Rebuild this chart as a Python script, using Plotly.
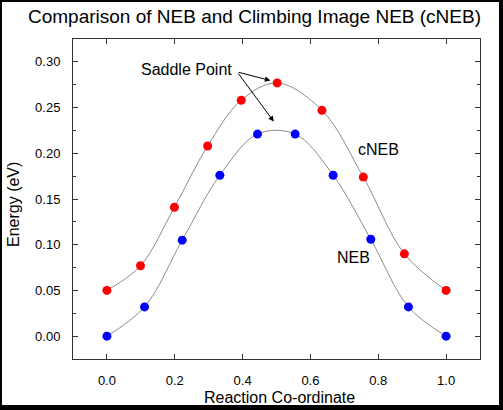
import plotly.graph_objects as go

# NEB images (blue) and climbing image NEB (red)
neb_x = [0.0, 0.111, 0.222, 0.333, 0.444, 0.555, 0.667, 0.778, 0.889, 1.0]
neb_e = [0.0, 0.032, 0.105, 0.176, 0.221, 0.221, 0.176, 0.106, 0.032, 0.0]

cneb_x = [0.0, 0.099, 0.199, 0.297, 0.396, 0.502, 0.634, 0.756, 0.877, 1.0]
cneb_e = [0.05, 0.077, 0.141, 0.208, 0.258, 0.277, 0.247, 0.174, 0.090, 0.05]

x_ticks = [0.0, 0.2, 0.4, 0.6, 0.8, 1.0]
y_ticks = [0.00, 0.05, 0.10, 0.15, 0.20, 0.25, 0.30]

W, H = 503, 410
L, R, T, B = 73, 480, 39, 359
FONT = "Liberation Sans, Arial, Helvetica, sans-serif"


def px(x):
    return (x - L) / (R - L)


def py(y):
    return (B - y) / (B - T)


fig = go.Figure()

for xs, es, col, nm in [(cneb_x, cneb_e, "#ff0000", "cNEB"), (neb_x, neb_e, "#0000ff", "NEB")]:
    fig.add_trace(go.Scatter(x=xs, y=es, mode="lines", name=nm,
                             line=dict(color="#8c8c8c", width=1, shape="spline"),
                             hoverinfo="skip"))
for xs, es, col, nm in [(cneb_x, cneb_e, "#ff0000", "cNEB"), (neb_x, neb_e, "#0000ff", "NEB")]:
    fig.add_trace(go.Scatter(x=xs, y=es, mode="markers", name=nm,
                             marker=dict(color=col, size=9, line=dict(width=0))))

axis_common = dict(showline=True, linecolor="#333333", linewidth=1, mirror="ticks",
                   ticks="inside", tickcolor="#333333", ticklen=5, tickwidth=1,
                   showgrid=False, zeroline=False,
                   tickfont=dict(family=FONT, size=13, color="black"))

fig.update_xaxes(range=[-0.1, 1.1], tickvals=x_ticks, tickformat=".1f",
                 ticklabelstandoff=9, **axis_common)
fig.update_yaxes(range=[-0.025, 0.325], tickvals=y_ticks, tickformat=".2f",
                 ticklabelstandoff=9,
                 minor=dict(ticks="inside", ticklen=3, dtick=0.025, tickcolor="#333333",
                            showgrid=False),
                 **axis_common)

centre = dict(xref="paper", yref="paper", showarrow=False, xanchor="center", yanchor="middle")
ann = [
    dict(text="Comparison of NEB and Climbing Image NEB (cNEB)", x=px(254), y=py(16),
         font=dict(size=19), **centre),
    dict(text="Reaction Co-ordinate", x=px(279), y=py(397), font=dict(size=16), **centre),
    dict(text="Energy (eV)", x=px(13), y=py(205), textangle=-90, font=dict(size=16), **centre),
    dict(text="Saddle Point", x=0.236, y=0.292, showarrow=False, font=dict(size=16)),
    dict(text="cNEB", x=0.801, y=0.204, showarrow=False, font=dict(size=16)),
    dict(text="NEB", x=0.727, y=0.086, showarrow=False, font=dict(size=16)),
]
for hx, hy in [(0.482, 0.2796), (0.492, 0.2347)]:
    ann.append(dict(text="", x=hx, y=hy, ax=0.384, ay=0.289, axref="x", ayref="y",
                    showarrow=True, arrowhead=2, arrowsize=1.1, arrowwidth=1,
                    arrowcolor="black"))

# thick black frame round the whole picture
shapes = []
for x0, y0, x1, y1 in [(0, 0, W, 2), (0, 0, 2, H), (499, 0, W, H), (0, 405, W, H)]:
    shapes.append(dict(type="rect", xref="paper", yref="paper",
                       x0=px(x0), x1=px(x1), y0=py(y1), y1=py(y0),
                       fillcolor="black", line=dict(width=0), layer="above"))

fig.update_layout(width=W, height=H, margin=dict(l=L, r=W - R, t=T, b=H - B),
                  paper_bgcolor="white", plot_bgcolor="white", showlegend=False,
                  font=dict(family=FONT, color="black"),
                  annotations=ann, shapes=shapes)

fig.write_html("out.html", config={"displayModeBar": False},
               post_script="document.body.style.margin='0';document.body.style.overflow='hidden';")
